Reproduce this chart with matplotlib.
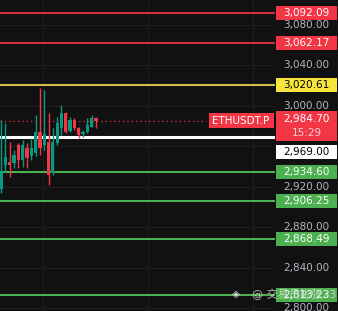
import numpy as np
import matplotlib
matplotlib.use("Agg")
import matplotlib.pyplot as plt
from matplotlib.patches import Rectangle

plt.rcParams['font.family'] = ['DejaVu Sans', 'Noto Sans CJK SC']

# K线数据 (开, 高, 低, 收)
opens = [2918, 2941.6, 2944.5, 2943.5, 2961, 2946.5, 2958, 2950.5, 2953.4, 2974.2, 2961,
         2964.3, 2933.7, 2963.3, 2978.2, 2993, 2975.2, 2986, 2978.2, 2972.2, 2974.2, 2979.1, 2988]
highs = [2986, 2983, 2964, 2956, 2963, 2966, 2963, 2968, 2991, 3017.7, 3015.7,
         2993, 2978, 2989, 3000.9, 2994, 2989, 2988, 2979.1, 2976.2, 2988, 2991, 2989]
lows = [2914, 2935, 2930, 2938.6, 2938.6, 2939.6, 2938.6, 2946.5, 2950, 2951.5, 2956,
        2921.8, 2931.7, 2961.3, 2971.2, 2973.2, 2974.2, 2976.2, 2968.3, 2969.3, 2973.2, 2979.1, 2978.2]
closes = [2936, 2949.5, 2942, 2951.5, 2946.5, 2961, 2948.5, 2958.4, 2974.2, 2958.4, 2972,
          2931.7, 2964.3, 2983.1, 2993, 2974.2, 2986, 2978.2, 2971.2, 2974.2, 2981.1, 2988, 2984.7]

# 水平价位线
levels = [3092.09, 3062.17, 3020.61, 2969.00, 2934.60, 2906.25, 2868.49, 2813.23]
level_kinds = ["red", "red", "yellow", "white", "green", "green", "green", "green"]
grid_prices = [3080, 3040, 3000, 2960, 2920, 2880, 2840, 2800]
axis_labels = ["3,080.00", "3,040.00", "3,000.00", "", "2,920.00", "2,880.00", "2,840.00", "2,800.00"]
last_price = 2984.70
symbol = "ETHUSDT.P"
countdown = "15:29"

bg = "#111111"
up_c, down_c = "#089981", "#f23645"
line_cols = {"red": "#d32f3c", "yellow": "#cfc04c", "white": "#ffffff", "green": "#4caf50"}
box_cols = {"red": "#f23645", "yellow": "#f7e43c", "white": "#ffffff", "green": "#4caf50"}
txt_cols = {"red": "white", "yellow": "black", "white": "black", "green": "white"}

W, H = 338, 311
fig = plt.figure(figsize=(W / 100, H / 100), dpi=100, facecolor=bg)
ax = fig.add_axes([0, 0, 275 / W, 1], facecolor=bg)
pax = fig.add_axes([275 / W, 0, 63 / W, 1], facecolor=bg, sharey=ax)

ylo, yhi = 2797.3, 3104.6
ppx = (yhi - ylo) / H  # 每像素价格
ax.set_ylim(ylo, yhi)
ax.set_xlim(-0.25, 63.5)
pax.set_xlim(0, 1)

for a in (ax, pax):
    for s in a.spines.values():
        s.set_visible(False)
    a.tick_params(left=False, bottom=False, right=False, labelleft=False, labelbottom=False)

# 网格
for p in grid_prices:
    ax.axhline(p, color="#1e1e1e", lw=0.8, zorder=0)
for gx in [9.8, 34.1, 58.4]:
    ax.axvline(gx, color="#1e1e1e", lw=0.8, zorder=0)

# 蜡烛
x = np.arange(len(opens))
for i in x:
    c = up_c if closes[i] >= opens[i] else down_c
    ax.vlines(i, lows[i], highs[i], color=c, lw=1.0, zorder=3)
    b0, b1 = min(opens[i], closes[i]), max(opens[i], closes[i])
    ax.add_patch(Rectangle((i - 0.38, b0), 0.76, max(b1 - b0, 0.8), color=c, zorder=4, lw=0))

# 水平线
for lv, k in zip(levels, level_kinds):
    ax.axhline(lv, color=line_cols[k], lw=2.2 if k == "white" else 1.5, zorder=2)
ax.axhline(last_price, color=down_c, lw=0.9, ls=(0, (1, 2.5)), zorder=2, xmax=0.75)

# 价格轴文字
for p, t in zip(grid_prices, axis_labels):
    pax.text(0.5, p, t, color="#b2b5be", fontsize=7.5, ha="center", va="center")

bh = 14 * ppx
for lv, k in zip(levels, level_kinds):
    yc = lv
    if k == "white":
        yc = lv - 14.5 * ppx  # 避开当前价格框
    pax.add_patch(Rectangle((1 / 63, yc - bh / 2), 61 / 63, bh, color=box_cols[k], zorder=3, lw=0))
    pax.text(0.5, yc, f"{lv:,.2f}", color=txt_cols[k], fontsize=7.5, ha="center", va="center", zorder=4)

# 当前价格框
top = last_price + 10 * ppx
pax.add_patch(Rectangle((1 / 63, top - 30 * ppx), 61 / 63, 30 * ppx, color=box_cols["red"], zorder=5, lw=0))
pax.text(0.5, top - 7.5 * ppx, f"{last_price:,.2f}", color="white", fontsize=7.5, ha="center", va="center", zorder=6)
pax.text(0.5, top - 22 * ppx, countdown, color="#fbd0d4", fontsize=7.5, ha="center", va="center", zorder=6)

# 品种标签
ax.add_patch(Rectangle((208 / 4.3 - 0.25, last_price - 7 * ppx), 65 / 4.3, 15 * ppx,
                       color=box_cols["red"], zorder=5, lw=0))
ax.text((240 / 4.3) - 0.25, last_price + 0.5 * ppx, symbol, color="white", fontsize=7.5,
        ha="center", va="center", zorder=6)

# 水印
fig.text(236 / W, 1 - 294 / H, "◈", color="#e0e0e0", fontsize=7.5, ha="center", va="center", alpha=0.9, zorder=10)
fig.text(252 / W, 1 - 294 / H, "@ 交易员彬张23", color="#e0e0e0", fontsize=8, ha="left", va="center",
         alpha=0.8, zorder=10)

fig.savefig("out.png", dpi=100, facecolor=bg)
